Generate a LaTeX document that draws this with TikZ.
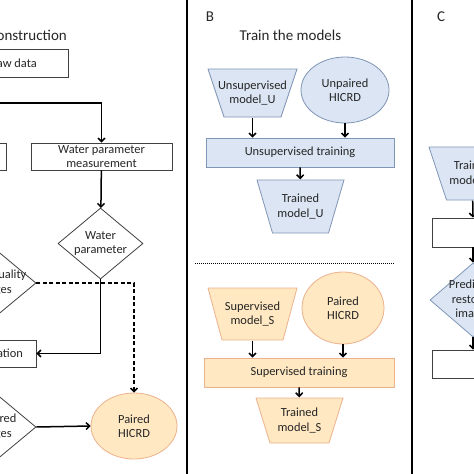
\documentclass[tikz,border=0pt]{standalone}
\usepackage{fontspec}
\setmainfont{Carlito}
\usetikzlibrary{arrows.meta,shapes.geometric}
\definecolor{bluefill}{RGB}{219,229,243}
\definecolor{bluedraw}{RGB}{128,150,182}
\definecolor{orfill}{RGB}{255,232,194}
\definecolor{ordraw}{RGB}{236,178,140}

\begin{document}
\begin{tikzpicture}[
  x=1pt,y=-1pt,
  font=\fontsize{12.4}{14.5}\selectfont,
  every node/.style={text=black!85},
  heading/.style={font=\fontsize{15}{18}\selectfont,inner sep=0pt},
  box/.style={draw=black!75,line width=.8pt,inner sep=0pt,align=center},
  bluebox/.style={box,draw=bluedraw,fill=bluefill},
  orbox/.style={box,draw=ordraw,fill=orfill},
  trapline/.style={line width=.8pt},
  trapU/.style={inner sep=0pt,align=center,fill=white,path picture={
    \filldraw[trapline,draw=bluedraw,fill=bluefill]
      ([xshift=.5pt,yshift=-.5pt]path picture bounding box.north west) --
      ([xshift=-.5pt,yshift=-.5pt]path picture bounding box.north east) --
      ([xshift=-#1,yshift=.5pt]path picture bounding box.south east) --
      ([xshift=#1,yshift=.5pt]path picture bounding box.south west) -- cycle;}},
  trapS/.style={inner sep=0pt,align=center,fill=white,path picture={
    \filldraw[trapline,draw=ordraw,fill=orfill]
      ([xshift=.5pt,yshift=-.5pt]path picture bounding box.north west) --
      ([xshift=-.5pt,yshift=-.5pt]path picture bounding box.north east) --
      ([xshift=-#1,yshift=.5pt]path picture bounding box.south east) --
      ([xshift=#1,yshift=.5pt]path picture bounding box.south west) -- cycle;}},
  dia/.style={diamond,aspect=1.2,draw=black!75,line width=.8pt,inner sep=-8pt,align=center,minimum width=84pt,minimum height=70pt},
  oval/.style={ellipse,draw=ordraw,fill=orfill,line width=.8pt,inner sep=0pt,align=center},
  flow/.style={-{Straight Barb[length=3.5pt,width=7pt]},line width=1.5pt,black},
  dflow/.style={flow,dash pattern=on 4pt off 2.5pt},
  divider/.style={line width=2.2pt,black}
]
\useasboundingbox (0,0) rectangle (474,474);
\fill[white] (0,0) rectangle (474,474);
\clip (0,0) rectangle (474,474);

% A: dataset construction (cut at the left edge)
\node[heading,anchor=east] (titA) at (67,35) {Dataset construction};
\node[box,minimum width=109pt,minimum height=28pt] (raw) at (13.5,63) {Raw data};
\coordinate (fork) at (-40,103);
\node[box,minimum width=126pt,minimum height=27pt] (iqa) at (-57,156.5) {};
\node[box,minimum width=141pt,minimum height=27pt] (wpm) at (101.5,156.5) {Water parameter\\measurement};
\node[dia,minimum width=85pt,minimum height=71pt] (wp) at (100.5,243.5) {Water\\parameter};
\node[dia] (gq) at (-6,283) {Good quality\\images};
\node[box,minimum width=84pt,minimum height=27pt] (rest) at (-6,353.5) {Restoration};
\node[dia] (rd) at (-6,427) {Restored\\images};
\node[oval,minimum width=86pt,minimum height=66pt] (phA) at (134,426) {Paired\\HICRD};
\draw[flow] (fork) -| (wpm.north);
\draw[flow] (wpm) -- (wp);
\draw[flow] (wp.south) |- (rest.east);
\draw[dflow] (gq.east) -| (phA.north);
\draw[flow] (rd.east) -- (phA.west);

\draw[divider] (187,-5) -- (187,480);

% B: training of the two models
\node[heading] (labB) at (210,17) {B};
\node[heading] (titB) at (290.5,35) {Train the models};
\node[trapU=16.5pt,minimum width=90pt,minimum height=49pt] (um) at (252.5,93) {Unsupervised\\model\_U};
\node[oval,draw=bluedraw,fill=bluefill,minimum width=88pt,minimum height=66pt] (uh) at (345,90) {Unpaired\\HICRD};
\node[bluebox,minimum width=188pt,minimum height=29pt] (ut) at (300,152.5) {Unsupervised training};
\node[trapU=16pt,minimum width=88pt,minimum height=54pt] (tu) at (300.5,206.5) {Trained\\model\_U};
\draw[flow] (um.south) -- (um.south |- ut.north);
\draw[flow] (uh.south) -- (uh.south |- ut.north);
\draw[flow] (ut) -- (tu);

\draw[line width=.8pt,dash pattern=on .8pt off 1.2pt] (195,263) -- (394,263);

\node[trapS=14.5pt,minimum width=90pt,minimum height=53pt] (sm) at (252.5,314) {Supervised\\model\_S};
\node[oval,minimum width=82pt,minimum height=72pt] (ph) at (343,308) {Paired\\HICRD};
\node[orbox,minimum width=190pt,minimum height=29pt] (st) at (299,372.5) {Supervised training};
\node[trapS=14.5pt,minimum width=88pt,minimum height=46pt] (ts) at (299.5,420.5) {Trained\\model\_S};
\draw[flow] (sm.south) -- (sm.south |- st.north);
\draw[flow] (ph.south) -- (ph.south |- st.north);
\draw[flow] (st) -- (ts);

\draw[divider] (412,-5) -- (412,480);

% C: restoration with the trained model (cut at the right edge)
\node[heading] (labC) at (441,17) {C};
\node[trapU=18pt,minimum width=88pt,minimum height=54pt] (tm) at (472.5,173.5) {Trained\\model\_U};
\node[box,minimum width=82pt,minimum height=29pt] (c1) at (473,232.5) {};
\node[dia,draw=bluedraw,fill=bluefill,minimum width=86pt,minimum height=74pt] (pr) at (473,300) {Predicted\\restored\\images};
\node[box,minimum width=82pt,minimum height=28pt] (c2) at (473,364) {};
\draw[flow] (tm) -- (c1);
\draw[flow] (c1) -- (pr);
\draw[flow] (pr) -- (c2);
\end{tikzpicture}
\end{document}
